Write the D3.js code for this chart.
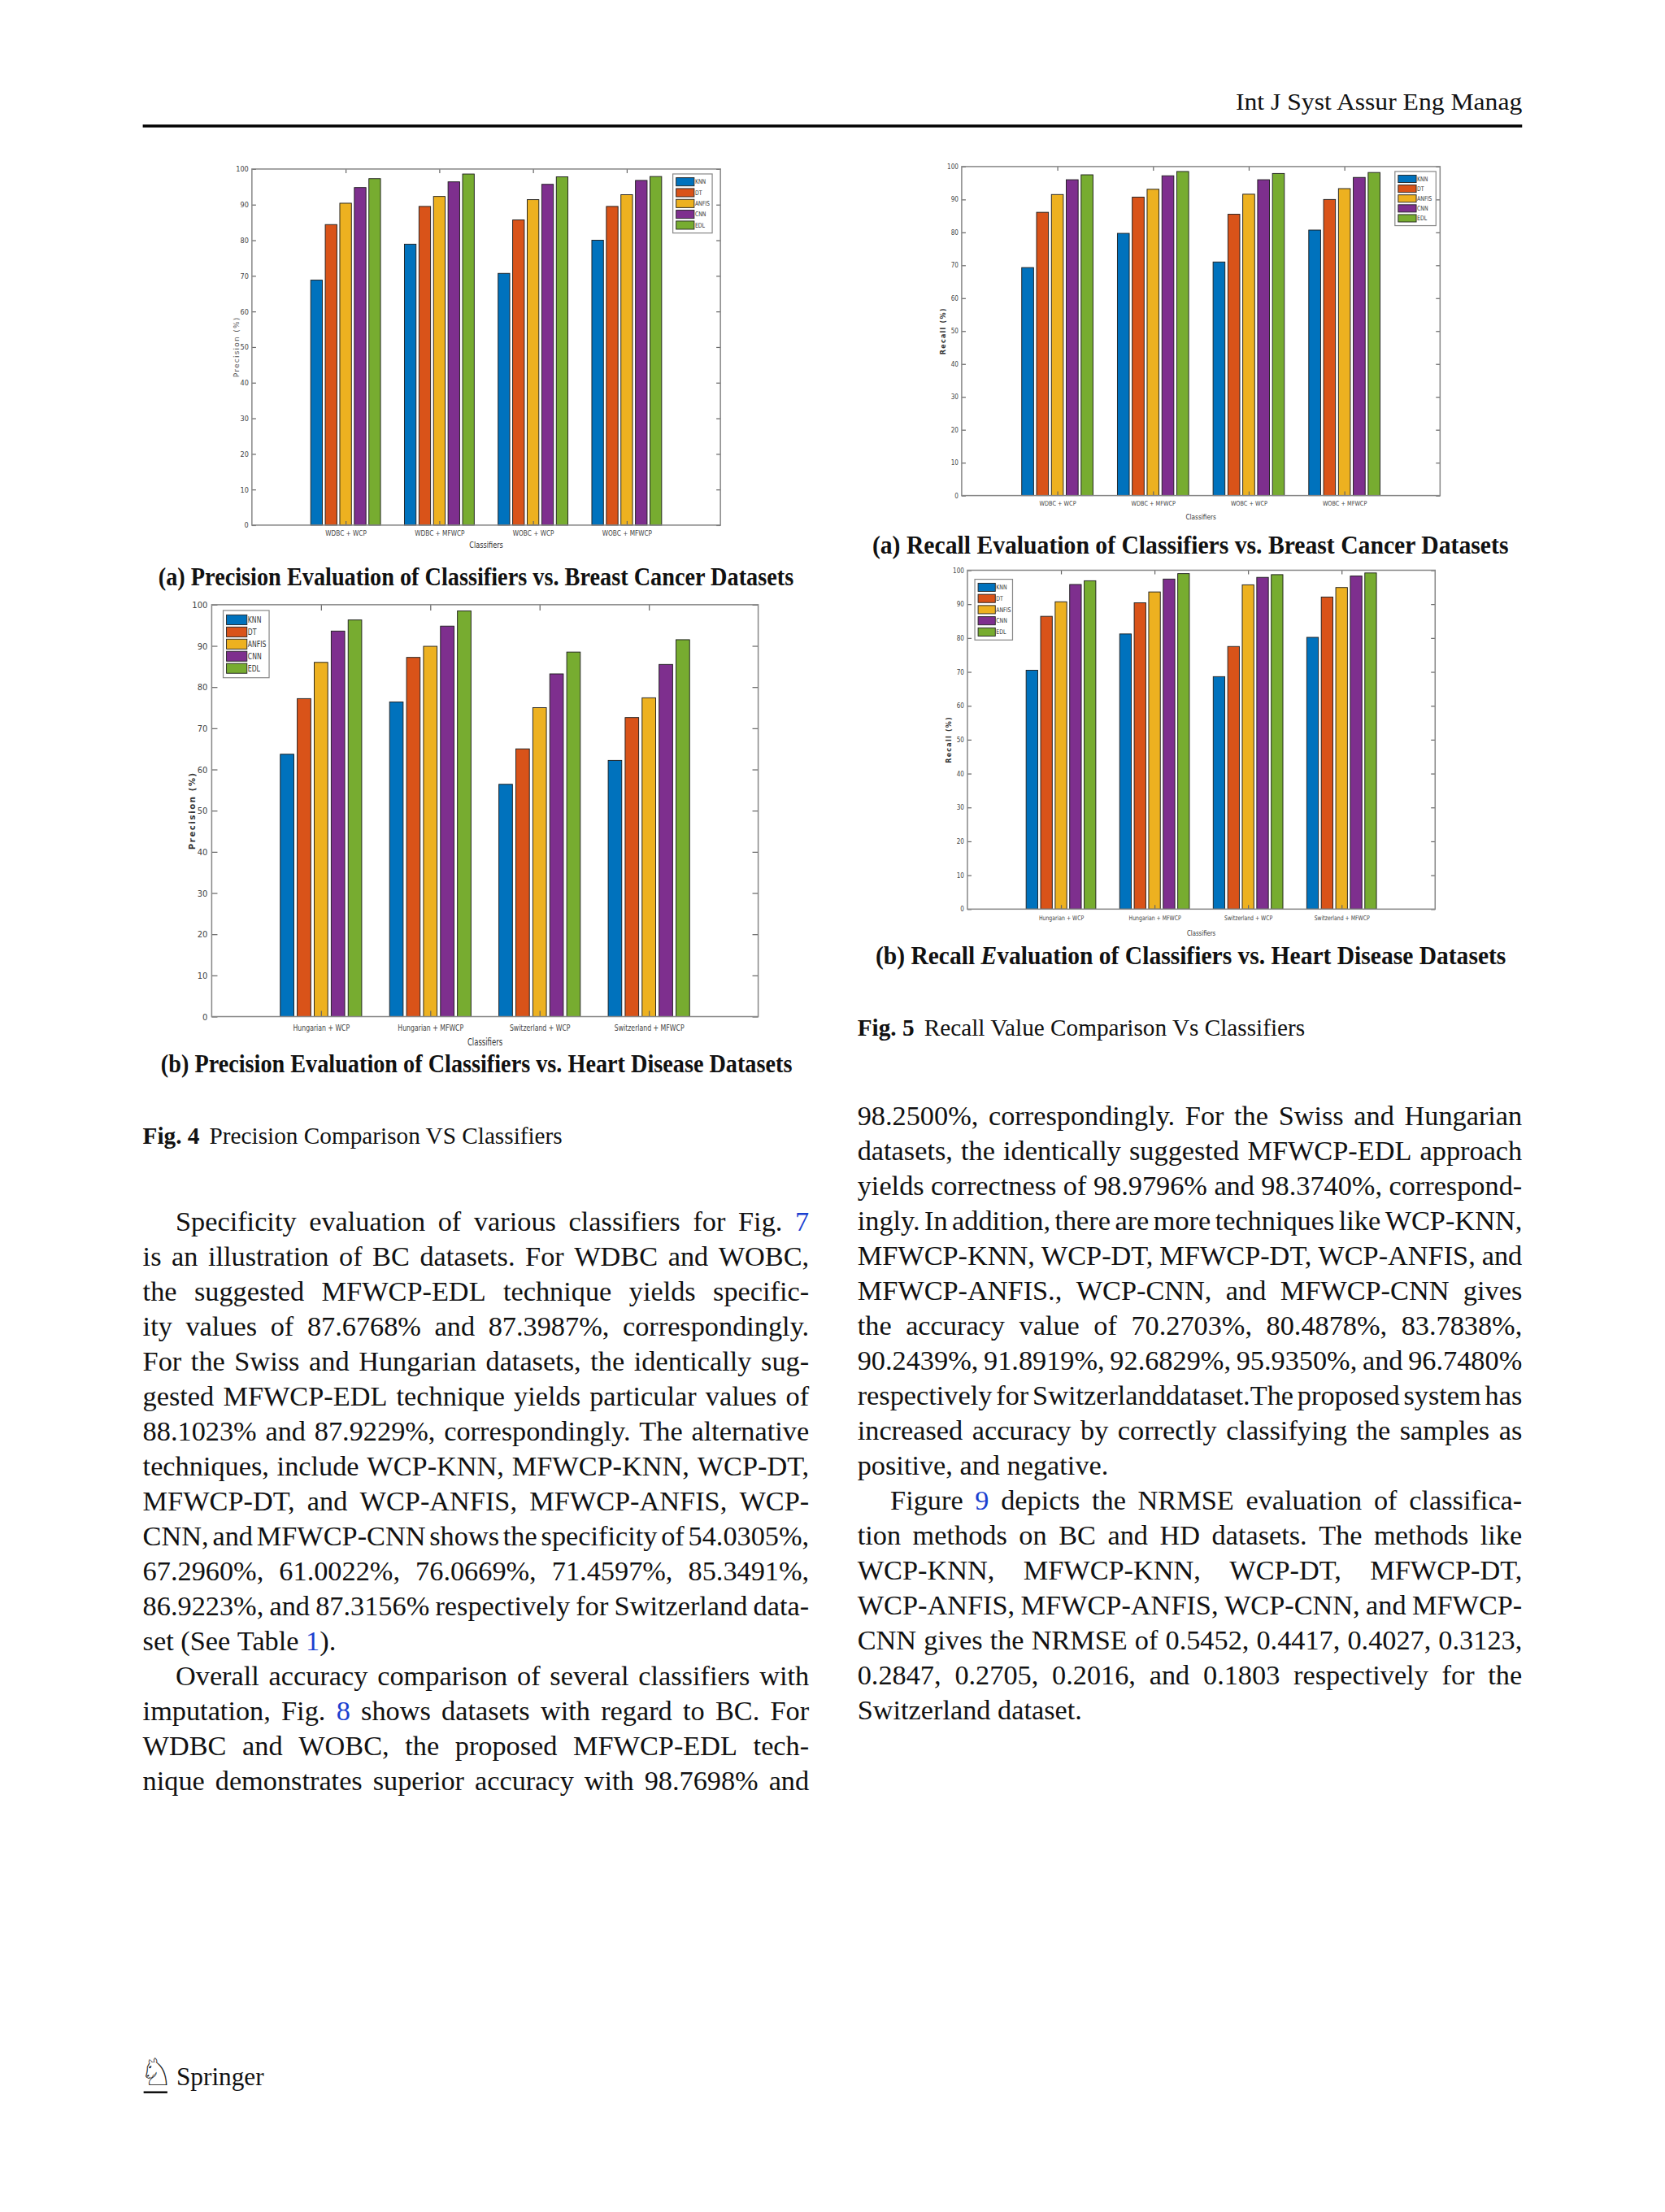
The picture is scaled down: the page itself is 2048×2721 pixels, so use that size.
<!DOCTYPE html>
<html><head><meta charset="utf-8">
<script src="https://cdn.jsdelivr.net/npm/d3@7"></script>
<style>
html,body{margin:0;padding:0;background:#fff;}
svg{display:block;}
</style></head>
<body>
<svg id="page" width="2048" height="2721"></svg>
<script>
// ---------------- DATA ----------------
const methods = ["KNN", "DT", "ANFIS", "CNN", "EDL"];
const bcGroups = ["WDBC + WCP", "WDBC + MFWCP", "WOBC + WCP", "WOBC + MFWCP"];
const hdGroups = ["Hungarian + WCP", "Hungarian + MFWCP", "Switzerland + WCP", "Switzerland + MFWCP"];
const yTicks = [0, 10, 20, 30, 40, 50, 60, 70, 80, 90, 100];

// Fig 4(a) Precision, Breast Cancer
const precBC_KNN   = [68.8, 78.9, 70.7, 80.0];
const precBC_DT    = [84.4, 89.5, 85.7, 89.5];
const precBC_ANFIS = [90.4, 92.3, 91.4, 92.8];
const precBC_CNN   = [94.8, 96.4, 95.7, 96.8];
const precBC_EDL   = [97.3, 98.6, 97.8, 97.9];

// Fig 4(b) Precision, Heart Disease
const precHD_KNN   = [63.7, 76.4, 56.4, 62.2];
const precHD_DT    = [77.2, 87.2, 65.0, 72.6];
const precHD_ANFIS = [86.0, 89.9, 75.0, 77.4];
const precHD_CNN   = [93.6, 94.8, 83.2, 85.5];
const precHD_EDL   = [96.3, 98.5, 88.5, 91.5];

// Fig 5(a) Recall, Breast Cancer
const recBC_KNN   = [69.3, 79.7, 71.0, 80.7];
const recBC_DT    = [86.1, 90.7, 85.5, 90.0];
const recBC_ANFIS = [91.5, 93.1, 91.6, 93.3];
const recBC_CNN   = [96.0, 97.2, 96.0, 96.7];
const recBC_EDL   = [97.5, 98.5, 97.9, 98.2];

// Fig 5(b) Recall, Heart Disease
const recHD_KNN   = [70.5, 81.2, 68.6, 80.2];
const recHD_DT    = [86.4, 90.4, 77.5, 92.1];
const recHD_ANFIS = [90.7, 93.6, 95.7, 94.9];
const recHD_CNN   = [95.8, 97.4, 97.9, 98.3];
const recHD_EDL   = [96.9, 99.0, 98.7, 99.2];

const colors = ["#0072BD", "#D95319", "#EDB120", "#7E2F8E", "#77AC30"];

// ---------------- PAGE ----------------
const root = d3.select("#page");
const svg = root.append("g").attr("transform", "scale(1.0093)");
const serif = "'Liberation Serif','Times New Roman',serif";
const narrow = "'Liberation Sans Narrow','DejaVu Sans Condensed','Arial Narrow',sans-serif";

// header
svg.append("text").attr("x", 1855).attr("y", 134).attr("text-anchor", "end")
  .style("font-family", serif).style("font-size", "29px").attr("fill", "#111")
  .attr("textLength", 349).attr("lengthAdjust", "spacingAndGlyphs")
  .text("Int J  Syst  Assur  Eng  Manag");
svg.append("line").attr("x1", 174).attr("x2", 1855).attr("y1", 153.5).attr("y2", 153.5)
  .attr("stroke", "#000").attr("stroke-width", 3.5);

// ---------------- CHART FUNCTION ----------------
function drawChart(o) {
  const g = svg.append("g");
  const x = d3.scaleLinear().domain([0, 5]).range([o.x0, o.x1]);
  const y = d3.scaleLinear().domain([0, 100]).range([o.y1, o.y0]);
  const inner = d3.scaleBand().domain(methods).range([-0.3725, 0.3725]).paddingInner(0.2);
  const bw = x(inner.bandwidth()) - x(0);

  methods.forEach((m, mi) => {
    g.append("g").selectAll("rect").data(o.values[mi]).enter().append("rect")
      .attr("x", (v, gi) => x(gi + 1 + inner(m)))
      .attr("width", bw)
      .attr("y", v => y(v))
      .attr("height", v => y(0) - y(v))
      .attr("fill", colors[mi])
      .attr("stroke", "#1a1a1a").attr("stroke-width", 0.9);
  });

  const tickCol = "#666";
  const styleAxis = sel => {
    sel.select(".domain").remove();
    sel.selectAll("line").attr("stroke", tickCol).attr("stroke-width", 1.2);
    sel.selectAll("text").style("font-family", narrow).style("font-size", o.fs + "px").attr("fill", "#444");
  };
  g.append("g").attr("transform", `translate(${o.x0},0)`)
    .call(d3.axisLeft(y).tickValues(yTicks).tickSizeInner(-o.tick).tickSizeOuter(0).tickPadding(o.ypad))
    .call(styleAxis);
  g.append("g").attr("transform", `translate(${o.x1},0)`)
    .call(d3.axisRight(y).tickValues(yTicks).tickSizeInner(-o.tick).tickSizeOuter(0).tickFormat(""))
    .call(styleAxis);
  g.append("g").attr("transform", `translate(0,${o.y1})`)
    .call(d3.axisBottom(x).tickValues([1, 2, 3, 4]).tickFormat(i => o.groups[i - 1])
      .tickSizeInner(-o.tick).tickSizeOuter(0).tickPadding(o.xpad))
    .call(styleAxis)
    .call(s => s.selectAll("text").attr("transform", `scale(${o.xsx},1)`));
  g.append("g").attr("transform", `translate(0,${o.y0})`)
    .call(d3.axisTop(x).tickValues([1, 2, 3, 4]).tickSizeInner(-o.tick).tickSizeOuter(0).tickFormat(""))
    .call(styleAxis);
  g.append("rect").attr("x", o.x0).attr("y", o.y0).attr("width", o.x1 - o.x0).attr("height", o.y1 - o.y0)
    .attr("fill", "none").attr("stroke", "#888").attr("stroke-width", 1.5);

  g.append("text").attr("transform", `translate(${(o.x0 + o.x1) / 2},${o.y1 + o.xlabOff}) scale(${o.xsx},1)`)
    .attr("text-anchor", "middle")
    .style("font-family", narrow).style("font-size", (o.fs + 1) + "px").attr("fill", "#333").text("Classifiers");
  g.append("text").attr("transform", `translate(${o.ylabX},${(o.y0 + o.y1) / 2}) rotate(-90)`)
    .attr("text-anchor", "middle").style("font-family", "'DejaVu Sans',sans-serif")
    .style("font-size", o.yfs + "px").style("letter-spacing", o.yls + "px")
    .style("font-weight", o.ybold ? "bold" : "normal").attr("fill", o.ybold ? "#333" : "#555")
    .text(o.ylab);

  const L = o.legend;
  const lg = g.append("g");
  lg.append("rect").attr("x", L.x).attr("y", L.y).attr("width", L.w).attr("height", L.h)
    .attr("fill", "#fff").attr("stroke", "#888").attr("stroke-width", 1.2);
  const pitch = (L.h - 2 * L.pad) / methods.length;
  const ly = d3.scaleBand().domain(methods).range([L.y + L.pad, L.y + L.h - L.pad]);
  methods.forEach((m, mi) => {
    lg.append("rect").attr("x", L.x + 4).attr("y", ly(m) + (pitch - L.sh) / 2).attr("width", L.sw).attr("height", L.sh)
      .attr("fill", colors[mi]).attr("stroke", "#222").attr("stroke-width", 0.9);
    lg.append("text").attr("transform", `translate(${L.x + 4 + L.sw + 1},${ly(m) + pitch / 2}) scale(0.85,1)`).attr("dy", "0.35em")
      .style("font-family", narrow).style("font-size", L.fs + "px").attr("fill", "#333").text(m);
  });
}

// Fig 4 (a)
drawChart({
  x0: 307, x1: 878, y0: 206, y1: 640, groups: bcGroups,
  values: [precBC_KNN, precBC_DT, precBC_ANFIS, precBC_CNN, precBC_EDL],
  fs: 9, xsx: 0.9, tick: 5, ypad: 4, xpad: 7, xlabOff: 28, ylab: "Precision (%)", ylabX: 291, yfs: 9, yls: 1.2, ybold: false,
  legend: { x: 820, y: 212, w: 48, h: 72, pad: 3, sw: 22, sh: 10, fs: 8 }
});
// Fig 4 (b)
drawChart({
  x0: 258, x1: 924, y0: 737, y1: 1239, groups: hdGroups,
  values: [precHD_KNN, precHD_DT, precHD_ANFIS, precHD_CNN, precHD_EDL],
  fs: 11, xsx: 0.78, tick: 7, ypad: 5, xpad: 10, xlabOff: 35, ylab: "Precision (%)", ylabX: 238, yfs: 10, yls: 1.6, ybold: true,
  legend: { x: 272, y: 744, w: 56, h: 82, pad: 4, sw: 25, sh: 12, fs: 10 }
});
// Fig 5 (a)
drawChart({
  x0: 1172, x1: 1755, y0: 203, y1: 604, groups: bcGroups,
  values: [recBC_KNN, recBC_DT, recBC_ANFIS, recBC_CNN, recBC_EDL],
  fs: 8, xsx: 0.9, tick: 5, ypad: 4, xpad: 7, xlabOff: 29, ylab: "Recall (%)", ylabX: 1152, yfs: 8, yls: 1.2, ybold: true,
  legend: { x: 1700, y: 209, w: 50, h: 66, pad: 3, sw: 22, sh: 9, fs: 8 }
});
// Fig 5 (b)
drawChart({
  x0: 1179, x1: 1749, y0: 695, y1: 1108, groups: hdGroups,
  values: [recHD_KNN, recHD_DT, recHD_ANFIS, recHD_CNN, recHD_EDL],
  fs: 8, xsx: 0.85, tick: 5, ypad: 4, xpad: 8, xlabOff: 32, ylab: "Recall (%)", ylabX: 1159, yfs: 8, yls: 1.2, ybold: true,
  legend: { x: 1188, y: 706, w: 46, h: 74, pad: 3, sw: 21, sh: 10, fs: 8 }
});

// ---------------- CAPTIONS ----------------
function subcap(x, y, w, parts) {
  const t = svg.append("text")
    .style("font-family", serif).style("font-size", "31px").style("font-weight", "bold").attr("fill", "#111");
  parts.forEach(p => { const s = t.append("tspan").text(p[0]); if (p[1]) s.style("font-style", "italic"); });
  const nat = t.node().getComputedTextLength();
  t.attr("transform", `translate(${x},${y}) scale(${w / nat},1)`);
}
subcap(193, 713, 774, [["(a)  Precision Evaluation of Classifiers vs. Breast Cancer Datasets"]]);
subcap(196, 1307, 769, [["(b)  Precision Evaluation of Classifiers vs. Heart Disease Datasets"]]);
subcap(1063, 675, 775, [["(a)  Recall Evaluation of Classifiers vs. Breast Cancer Datasets"]]);
subcap(1067, 1175, 768, [["(b)  Recall "], ["E", true], ["valuation of Classifiers vs. Heart Disease Datasets"]]);

function figcap(x, y, lab, txt) {
  const t = svg.append("text").attr("x", x).attr("y", y)
    .style("font-family", serif).style("font-size", "29px").attr("fill", "#111");
  t.append("tspan").style("font-weight", "bold").text(lab);
  t.append("tspan").attr("dx", 12).text(txt);
}
figcap(174, 1394, "Fig. 4", "Precision Comparison VS Classifiers");
figcap(1045, 1262, "Fig. 5", "Recall Value Comparison Vs Classifiers");

// ---------------- BODY TEXT ----------------
const leftLines = [
  ["Specificity evaluation of various classifiers for Fig. {7}", "i"],
  ["is an illustration of BC datasets. For WDBC and WOBC,", "j"],
  ["the suggested MFWCP-EDL technique yields specific-", "j"],
  ["ity values of 87.6768% and 87.3987%, correspondingly.", "j"],
  ["For the Swiss and Hungarian datasets, the identically sug-", "j"],
  ["gested MFWCP-EDL technique yields particular values of", "j"],
  ["88.1023% and 87.9229%, correspondingly. The alternative", "j"],
  ["techniques, include WCP-KNN, MFWCP-KNN, WCP-DT,", "j"],
  ["MFWCP-DT, and WCP-ANFIS, MFWCP-ANFIS, WCP-", "j"],
  ["CNN, and MFWCP-CNN shows the specificity of 54.0305%,", "j"],
  ["67.2960%, 61.0022%, 76.0669%, 71.4597%, 85.3491%,", "j"],
  ["86.9223%, and 87.3156% respectively for Switzerland data-", "j"],
  ["set (See Table {1}).", "l"],
  ["Overall accuracy comparison of several classifiers with", "i"],
  ["imputation, Fig. {8} shows datasets with regard to BC. For", "j"],
  ["WDBC and WOBC, the proposed MFWCP-EDL tech-", "j"],
  ["nique demonstrates superior accuracy with 98.7698% and", "j"]
];
const rightLines = [
  ["98.2500%, correspondingly. For the Swiss and Hungarian", "j"],
  ["datasets, the identically suggested MFWCP-EDL approach", "j"],
  ["yields correctness of 98.9796% and 98.3740%, correspond-", "j"],
  ["ingly. In addition, there are more techniques like WCP-KNN,", "j"],
  ["MFWCP-KNN, WCP-DT, MFWCP-DT, WCP-ANFIS, and", "j"],
  ["MFWCP-ANFIS., WCP-CNN, and MFWCP-CNN gives", "j"],
  ["the accuracy value of 70.2703%, 80.4878%, 83.7838%,", "j"],
  ["90.2439%, 91.8919%, 92.6829%, 95.9350%, and 96.7480%", "j"],
  ["respectively for Switzerlanddataset.The proposed system has", "j"],
  ["increased accuracy by correctly classifying the samples as", "j"],
  ["positive, and negative.", "l"],
  ["Figure {9} depicts the NRMSE evaluation of classifica-", "i"],
  ["tion methods on BC and HD datasets. The methods like", "j"],
  ["WCP-KNN, MFWCP-KNN, WCP-DT, MFWCP-DT,", "j"],
  ["WCP-ANFIS, MFWCP-ANFIS, WCP-CNN, and MFWCP-", "j"],
  ["CNN gives the NRMSE of 0.5452, 0.4417, 0.4027, 0.3123,", "j"],
  ["0.2847, 0.2705, 0.2016, and 0.1803 respectively for the", "j"],
  ["Switzerland dataset.", "l"]
];
const bodyFs = 34;
const measurer = svg.append("text").style("font-family", serif).style("font-size", bodyFs + "px").attr("visibility", "hidden");
function measure(s) { measurer.text(s); return measurer.node().getComputedTextLength(); }
function drawColumn(lines, x0, x1, y0, lh) {
  lines.forEach((ln, li) => {
    const [str, mode] = ln;
    const indent = mode === "i" ? 40 : 0;
    const words = str.split(" ");
    const plain = words.map(w => w.replace(/[{}]/g, ""));
    const ws = plain.map(measure);
    const total = ws.reduce((a, b) => a + b, 0);
    const avail = x1 - x0 - indent;
    let gap = measure("\u00a0");
    if (mode !== "l" && words.length > 1) gap = (avail - total) / (words.length - 1);
    const t = svg.append("text").attr("y", y0 + li * lh)
      .style("font-family", serif).style("font-size", bodyFs + "px").attr("fill", "#111");
    let cx = x0 + indent;
    words.forEach((w, wi) => {
      const ts = t.append("tspan").attr("x", cx);
      w.split(/(\{[^}]*\})/).filter(s => s.length).forEach(seg => {
        if (seg[0] === "{") ts.append("tspan").attr("fill", "#1a3fd0").text(seg.slice(1, -1));
        else ts.append("tspan").text(seg);
      });
      cx += ws[wi] + gap;
    });
  });
}
drawColumn(leftLines, 174, 986, 1500, 42.6);
drawColumn(rightLines, 1045, 1855, 1371, 42.6);
measurer.remove();

// ---------------- FOOTER ----------------
svg.append("text").attr("x", 170).attr("y", 2541)
  .style("font-family", "'DejaVu Sans',sans-serif").style("font-size", "46px").attr("fill", "#111").text("\u2658");
svg.append("line").attr("x1", 175).attr("x2", 204).attr("y1", 2550).attr("y2", 2550).attr("stroke", "#111").attr("stroke-width", 2.5);
svg.append("text").attr("x", 215).attr("y", 2541)
  .style("font-family", serif).style("font-size", "31px").attr("fill", "#111").text("Springer");
</script>
</body></html>
